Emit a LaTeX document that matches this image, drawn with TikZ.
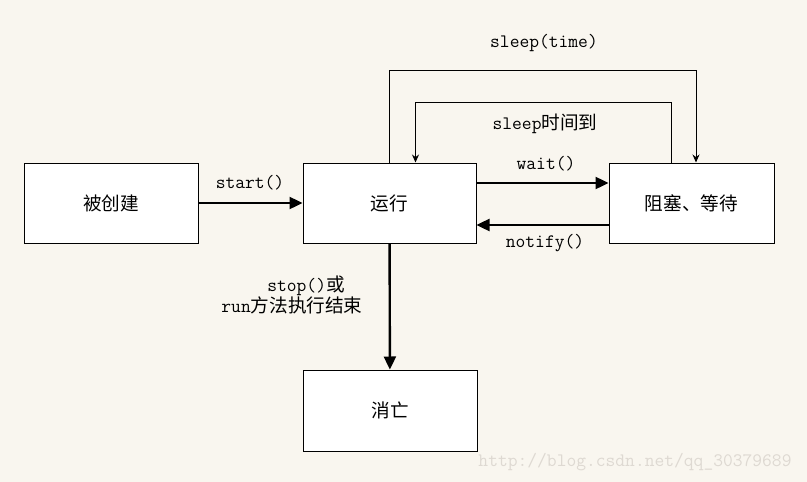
\documentclass[tikz,border=0pt]{standalone}
\usepackage{fontspec}
\newfontfamily\cjk{Noto Sans CJK SC}[Scale=0.98]
\usetikzlibrary{arrows.meta}
\definecolor{fondo}{RGB}{249,246,239}
\definecolor{marca}{RGB}{222,217,210}
\newcommand\lbfont{\fontsize{19}{22}\selectfont\ttfamily}

\begin{document}
\begin{tikzpicture}[x=1pt, y=-1pt,
	estado/.style={draw=black, fill=white, line width=1pt, inner sep=0pt, font=\lbfont},
	flecha/.style={line width=2.4pt, -{Triangle[length=13pt,width=12pt]}},
	lazo/.style={line width=1pt, -{Stealth[length=8pt,width=7pt]}},
	etiqueta/.style={inner sep=0pt, font=\lbfont}]
				%Fondo
				\fill[fondo] (0,0) rectangle (807,482);
				\useasboundingbox (0,0) rectangle (807,482);
				%Estados
				\node[estado, minimum width=174pt, minimum height=80pt] (creado) at (111,203) {\cjk 被创建};
				\node[estado, minimum width=173pt, minimum height=80pt] (corre) at (389.5,203) {\cjk 运行};
				\node[estado, minimum width=165pt, minimum height=80pt] (bloq) at (691.5,203) {\cjk 阻塞、等待};
				\node[estado, minimum width=174pt, minimum height=81pt] (muerto) at (390,410.5) {\cjk 消亡};

				%Transiciones
				\draw[flecha] (creado) -- (corre);
				\draw[flecha] ([yshift=20pt]corre.east) -- ([yshift=20pt]bloq.west);
				\draw[flecha] ([yshift=-22pt]bloq.west) -- ([yshift=-22pt]corre.east);
				\draw[flecha] (corre) -- (muerto);

				%Lazos de sleep
				\draw[lazo] (corre.north) -- ++(0,-92) -| ([xshift=4.5pt]bloq.north);
				\draw[lazo] ([xshift=-20pt]bloq.north) -- ++(0,-60) -| ([xshift=26pt]corre.north);

				%Etiquetas
				\node[etiqueta] (eSleepT) at (544,43) {sleep(time)};
				\node[etiqueta] (eSleepF) at (545,124) {sleep{\cjk 时间到}};
				\node[etiqueta] (eWait) at (546,164) {wait()};
				\node[etiqueta] (eStart) at (250,183) {start()};
				\node[etiqueta] (eNotify) at (545,243) {notify()};
				\node[etiqueta] (eStop) at (306,286) {stop(){\cjk 或}};
				\node[etiqueta] (eRun) at (292,305) {run{\cjk 方法执行结束}};

				% marca de agua
				\node[etiqueta, text=marca, font=\fontsize{19}{22}\selectfont\ttfamily] (marca) at (635,462) {http://blog.csdn.net/qq\_30379689};
\end{tikzpicture}
\end{document}
